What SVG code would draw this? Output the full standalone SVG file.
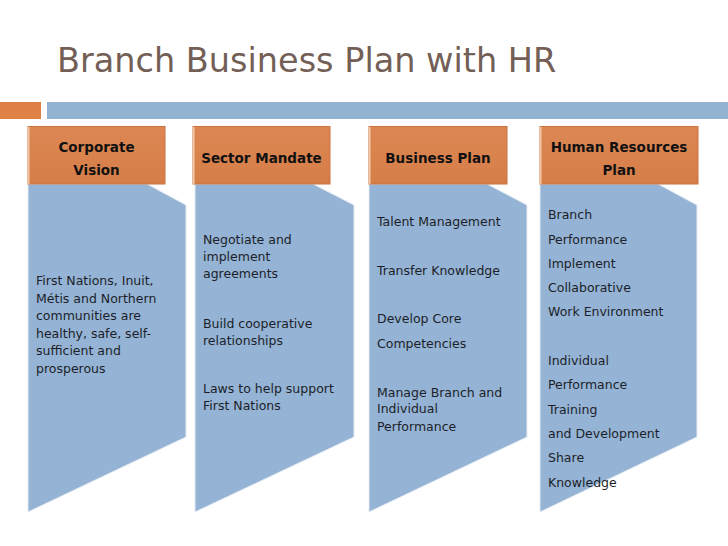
<svg xmlns="http://www.w3.org/2000/svg" width="728" height="546" viewBox="0 0 728 546">
<defs>
<linearGradient id="hdr" x1="0" y1="0" x2="0" y2="1">
<stop offset="0" stop-color="#DC8754"/>
<stop offset="1" stop-color="#D67E48"/>
</linearGradient>
</defs>
<style>
.title{font-family:"DejaVu Sans",sans-serif;font-size:33.5px;fill:#735F56}
.hbox{fill:url(#hdr);stroke:#C9733F;stroke-width:1}
.hedge{fill:#F3C9A8}
.body{fill:#95B3D4;stroke:#E6ECF3;stroke-width:1}
.ht{font-family:"DejaVu Sans",sans-serif;font-weight:bold;font-size:13.5px;fill:#111;text-anchor:middle}
.bt{font-family:"DejaVu Sans",sans-serif;font-size:12.5px;fill:#1C1F2A}
</style>
<rect width="728" height="546" fill="#FFFFFF"/>
<text class="title" x="57" y="72">Branch Business Plan with HR</text>
<rect x="0" y="102" width="41" height="17" fill="#DF8144"/>
<rect x="47" y="102" width="681" height="17" fill="#93B3D2"/>

<g id="col1">
<polygon class="body" points="28,184 147,184 186,205 186,437 28,512"/>
<rect class="hbox" x="28" y="126.500" width="137" height="57.5"/>
<rect class="hedge" x="28" y="127" width="1.5" height="57"/>
<text class="ht" x="96.500" y="152">Corporate</text>
<text class="ht" x="96.500" y="175">Vision</text>
<text class="bt" x="36" y="285">First Nations, Inuit,</text>
<text class="bt" x="36" y="302.500">Métis and Northern</text>
<text class="bt" x="36" y="320">communities are</text>
<text class="bt" x="36" y="337.500">healthy, safe, self-</text>
<text class="bt" x="36" y="355">sufficient and</text>
<text class="bt" x="36" y="372.500">prosperous</text>
</g>

<g id="col2">
<polygon class="body" points="195,184 313,184 354,205 354,437 195,512"/>
<rect class="hbox" x="193" y="126.500" width="137" height="57.5"/>
<rect class="hedge" x="193" y="127" width="1.5" height="57"/>
<text class="ht" x="261.500" y="163">Sector Mandate</text>
<text class="bt" x="203" y="244">Negotiate and</text>
<text class="bt" x="203" y="261">implement</text>
<text class="bt" x="203" y="278">agreements</text>
<text class="bt" x="203" y="327.500">Build cooperative</text>
<text class="bt" x="203" y="344.500">relationships</text>
<text class="bt" x="203" y="393">Laws to help support</text>
<text class="bt" x="203" y="410">First Nations</text>
</g>

<g id="col3">
<polygon class="body" points="369,184 487,184 527,205 527,437 369,512"/>
<rect class="hbox" x="369" y="126.500" width="138" height="57.5"/>
<rect class="hedge" x="369" y="127" width="1.5" height="57"/>
<text class="ht" x="438" y="163">Business Plan</text>
<text class="bt" x="377" y="225.500">Talent Management</text>
<text class="bt" x="377" y="274.500">Transfer Knowledge</text>
<text class="bt" x="377" y="323">Develop Core</text>
<text class="bt" x="377" y="347.500">Competencies</text>
<text class="bt" x="377" y="396.500">Manage Branch and</text>
<text class="bt" x="377" y="413">Individual</text>
<text class="bt" x="377" y="430.500">Performance</text>
</g>

<g id="col4">
<polygon class="body" points="540,184 658,184 697,205 697,437 540,512"/>
<rect class="hbox" x="540" y="126.500" width="158" height="57.5"/>
<rect class="hedge" x="540" y="127" width="1.5" height="57"/>
<text class="ht" x="619" y="152">Human Resources</text>
<text class="ht" x="619" y="175">Plan</text>
<text class="bt" x="548" y="219">Branch</text>
<text class="bt" x="548" y="243.500">Performance</text>
<text class="bt" x="548" y="268">Implement</text>
<text class="bt" x="548" y="292">Collaborative</text>
<text class="bt" x="548" y="316">Work Environment</text>
<text class="bt" x="548" y="365">Individual</text>
<text class="bt" x="548" y="389">Performance</text>
<text class="bt" x="548" y="413.500">Training</text>
<text class="bt" x="548" y="438">and Development</text>
<text class="bt" x="548" y="462">Share</text>
<text class="bt" x="548" y="486.500">Knowledge</text>
</g>

<g id="connectors"></g>
</svg>
